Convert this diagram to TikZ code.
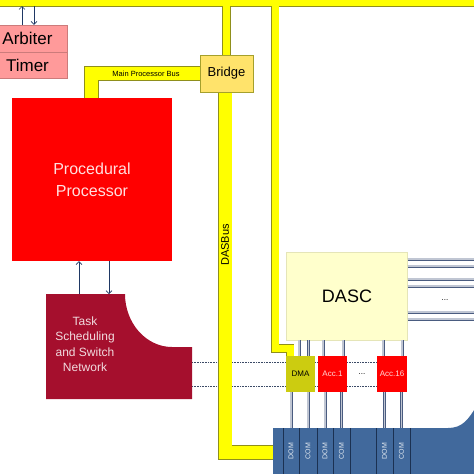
\documentclass[tikz,border=0pt]{standalone}
\usepackage{fontspec}
\setmainfont{Liberation Sans}
\usetikzlibrary{arrows.meta,positioning,calc}
\definecolor{busyellow}{HTML}{FFFF00}
\definecolor{busedge}{HTML}{8F8F1C}
\definecolor{arbpink}{HTML}{FF9A9A}
\definecolor{procred}{HTML}{FF0000}
\definecolor{taskred}{HTML}{A50F2D}
\definecolor{bridgegold}{HTML}{FFE36B}
\definecolor{dascpale}{HTML}{FFFFCC}
\definecolor{dmaolive}{HTML}{CCCC10}
\definecolor{domblue}{HTML}{41699C}
\definecolor{domline}{HTML}{1B3152}
\definecolor{linkgrey}{HTML}{4A5C80}
\definecolor{arrownavy}{HTML}{1F3864}
\tikzset{>={Straight Barb[length=3pt,width=6pt]},
  busout/.style={draw=busedge,line width=#1+1.6pt,line join=miter},
  busin/.style={draw=busyellow,line width=#1,line join=miter},
  unit/.style={inner sep=0pt,align=center},
  acc/.style={unit,fill=procred,text=white!85!red,minimum height=36pt,font=\fontsize{8}{9}\selectfont},
  link/.style={draw=linkgrey,line width=0.8pt,double=linkgrey!35,double distance=1.4pt},
  ctrl/.style={draw=linkgrey!80!black,densely dotted,line width=0.6pt},
  sig/.style={draw=arrownavy,line width=0.7pt}}

% all yellow buses, drawn twice (border, then fill)
\newcommand{\buses}[1]{%
  \path[#1=12pt] (-5,0) -- (480,0);
  \path[#1=7pt] (226.5,0) -- (226.5,55);
  \path[#1=13pt] (91.5,98) -- (91.5,73.5) -- (200,73.5);
  \path[#1=13pt] (225,92) -- (225,452.5) -- (273,452.5);
  \path[#1=7pt] (275,0) -- (275,348.5) -- (290,348.5) -- (290,356);
}

\begin{document}
\begin{tikzpicture}[x=1pt,y=-1pt]
  \clip (0,0) rectangle (474,474);

  % control lines from the switch network
  \coordinate (tasks1) at (192,362);
  \coordinate (tasks2) at (192,386);
  \coordinate (ctrlend) at (377,374);
  \draw[ctrl] (tasks1) -- (tasks1 -| ctrlend);
  \draw[ctrl] (tasks2) -- (tasks2 -| ctrlend);

  \buses{busout}
  \buses{busin}

  \node[unit,draw=busedge!80!bridgegold,fill=bridgegold,minimum width=53pt,minimum height=37pt,font=\fontsize{13}{15}\selectfont] (bridge) at (226.5,73.5) {Bridge};
  \node[unit,font=\fontsize{7.5}{9}\selectfont] (mpbus) at (146,73.5) {Main Processor Bus};
  \node[unit,rotate=90,font=\fontsize{11}{13}\selectfont] (dasbus) at (225,245) {DASBus};

  % accelerators and DASC
  \node[acc,fill=dmaolive,text=black,minimum width=29pt] (dma) at (300.5,374) {DMA};
  \node[acc,minimum width=29pt] (acc1) at (332.5,374) {Acc.1};
  \node[acc,minimum width=30pt] (acc16) at (392,374) {Acc.16};
  \node[unit,font=\fontsize{8}{9}\selectfont] (accdots) at (362,374) {...};

  \node[unit,draw=dascpale!90!black,fill=dascpale,minimum width=121pt,minimum height=88pt,font=\fontsize{18}{21}\selectfont] (dasc) at (347,296) {DASC};
  \node[unit,font=\fontsize{8}{9}\selectfont] (dascdots) at (445,300) {...};

  % DOM/COM block
  \coordinate (blocktop) at (273,428);
  \fill[domblue] (blocktop) -- (448,428) .. controls (462,428) and (468,420) .. (476,407)
    -- (476,476) -- (273,476) -- cycle;
  \foreach \x in {283,299,317,333,350,376,393,410}
    \draw[domline,line width=0.8pt] (\x,428) -- (\x,476);
  \foreach \n/\x/\t in {dom1/291/DOM,com1/308/COM,dom2/325/DOM,com2/341.5/COM,dom3/384.5/DOM,com3/401.5/COM}
    \node[unit,rotate=90,text=white!85!domblue,font=\fontsize{7}{8}\selectfont] (\n) at (\x,451) {\t};

  % DASC links
  \coordinate (rim) at (476,0);
  \foreach \y in {-37,-30,-17,-10,16,23}
    \draw[link] ($(dasc.east)+(0,\y)$) -- ($(dasc.east -| rim)+(0,\y)$);
  \foreach \b/\s in {dma/-1.5,dma/8,acc1/-9.5,acc1/10.5,acc16/-9,acc16/10}
    \draw[link] ($(\b.north)+(\s,0)$) -- ($(\b.north |- dasc.south)+(\s,0)$);
  \foreach \b/\c in {dma/dom1,dma/com1,acc1/dom2,acc1/com2,acc16/dom3,acc16/com3}
    \draw[link] (\b.south -| \c) -- (\c |- blocktop);

  % arbiter and timer
  \node[unit,draw=arbpink!80!black,fill=arbpink,minimum width=79pt,minimum height=27pt,font=\fontsize{17}{20}\selectfont] (arb) at (27.5,38.5) {Arbiter};
  \node[unit,draw=arbpink!80!black,fill=arbpink,minimum width=79pt,minimum height=26pt,font=\fontsize{17}{20}\selectfont,below=0pt of arb] (tim) {Timer};
  \coordinate (tb) at (0,6);
  \coordinate (arbup) at ([xshift=-5.5pt]arb.north);
  \coordinate (arbdn) at ([xshift=6.5pt]arb.north);
  \draw[sig,->] (arbup) -- (arbup |- tb);
  \draw[sig,<-] (arbdn) -- (arbdn |- tb);

  % processor and switch network
  \node[unit,fill=procred,text=white!88!red,minimum width=160pt,minimum height=163pt,font=\fontsize{16}{22}\selectfont] (proc) at (92,179.5) {Procedural\\Processor};
  \coordinate (tasknw) at (46,294);
  \fill[taskred] (tasknw) -- (125,294) .. controls (125,323) and (146,347) .. (172,347)
    -- (192,347) -- (192,399) -- (46,399) -- cycle;
  \node[unit,text=white!85!taskred,font=\fontsize{12}{15.5}\selectfont] (task) at (85,344) {Task\\Scheduling\\and Switch\\Network};
  \coordinate (procup) at ([xshift=-13pt]proc.south);
  \coordinate (procdn) at ([xshift=17pt]proc.south);
  \draw[sig,<-] (procup) -- (procup |- tasknw);
  \draw[sig,->] (procdn) -- (procdn |- tasknw);
\end{tikzpicture}
\end{document}
